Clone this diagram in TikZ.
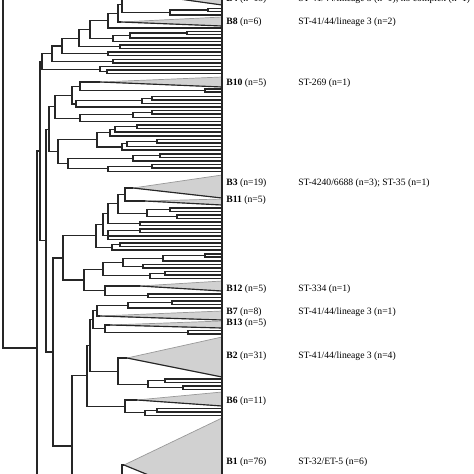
\documentclass[tikz,border=0pt]{standalone}
\usepackage{fontspec}
\setmainfont{Liberation Serif}
\begin{document}
\begin{tikzpicture}[x=0.02cm, y=-0.02cm,
    branch/.style={draw=black!85, line width=0.65pt},
    clade/.style={fill=black!18, draw=black!40, line width=0.4pt},
    every node/.style={font=\fontsize{5.5}{6.6}\selectfont, inner sep=0pt, anchor=west}]
  \useasboundingbox (0,0) rectangle (474,474);
  \clip (0,0) rectangle (474,474);
  \coordinate (rim) at (222,0);
  \coordinate (offR) at (3,-30);
  \coordinate (offA) at (100,545);
  \coordinate (offB) at (100,540);
  % inner nodes of the tree
  \foreach \n/\x/\y in {N208/208/10, N170/170/12.5, N122/122/4.75, N118/118/13.375,
      N108/108/20.69, N187/187/33, N130/130/35.5, N113/113/38.5, N90/90/29.6,
      N120/120/46.75, N79/79/38.17, N108b/108/53.75, N62/62/45.96, N113b/113/61.25,
      N52/52/53.6, N107/107/71.75, N100/100/69.125, N42/42/61.36,
      N205/205/90.5, N80/80/86.25, N152a/152/98.25, N142/142/100.875, N76/76/103.94,
      N72/72/95.1, N152b/152/112.25, N133/133/114.875, N80b/80/118.19, N55/55/106.64,
      N137/137/126.75, N115/115/129.375, N110/110/132.7, N157/157/141.25,
      N127/127/143.875, N122b/122/146.94, N97/97/139.8, N160/160/155.75,
      N133c/133/158.375, N152c/152/166.25, N108c/108/168.875, N68/68/163.6,
      N58/58/151.7, N49/49/129.2,
      N125/125/194.5, N170b/170/209.75, N177/177/216.75, N147/147/213.25,
      N118b/118/203.875, N140/140/223.75, N108d/108/213.8, N140b/140/230.75,
      N108e/108/235.1, N103/103/224.45, N120b/120/244.75, N112/112/247.4,
      N96/96/235.9, N205b/205/255.5, N163/163/258.25, N143/143/266.25,
      N123/123/262.25, N165/165/273.25, N150/150/275.9, N103b/103/269.1,
      N148/148/295.75, N105/105/290.9, N84/84/280, N63/63/258,
      N172/172/302.75, N128/128/305.4, N97b/97/310.7, N188/188/332.25,
      N105b/105/328.6, N93/93/319.65, N165b/165/380.75, N183/183/387.75,
      N148b/148/384.25, N118c/118/371.1, N90b/90/345.4, N157b/157/410.25,
      N145/145/412.9, N125b/125/406.4, N87/87/375.9, N122c/122/492,
      N82/82/516, N72b/72/446, N53/53/352, N46/46/240.6, N40/40/151, N37/37/348}
    \coordinate (\n) at (\x,\y);
  % collapsed clades
  \foreach \n/\x/\y/\a/\b in {tB4/165/-3/-13/5, tB8/121/22/17/26, tB10/100/82/77/87,
      tB3/133/188/175/198, tB11/145/201/199/205, tB12/140/286/281/291,
      tB7/100/316/311/320, tB13/110/325/321/328, tB2/127/358/337/377,
      tB6/137/400/392/406, tB1/124/465/418/505}{
    \coordinate (\n) at (\x,\y);
    \filldraw[clade] (\n) -- (rim |- 0,\a) -- (rim |- 0,\b) -- cycle;
    \draw[branch] (\n) -- (rim |- 0,\b);
  }
  % branches
  \foreach \p/\c in {N122/tB4, N122/N170, N170/N208, N118/N122, N118/tB8, N108/N118,
      N130/N187, N113/N130, N90/N108, N90/N113, N79/N90, N79/N120, N62/N79,
      N62/N108b, N52/N62, N52/N113b, N100/N107, N42/N52, N42/N100, N40/N42,
      N40/N46, N46/N49, N46/N53, N49/N55, N49/N58, N55/N72, N55/N80b, N72/N80,
      N72/N76, N80/tB10, N80/N205, N76/N142, N142/N152a, N80b/N133, N133/N152b,
      N58/N97, N58/N68, N97/N110, N97/N122b, N110/N115, N115/N137, N122b/N127,
      N127/N157, N68/N133c, N68/N108c, N133c/N160, N108c/N152c, N53/N63, N53/N72b,
      N63/N96, N63/N84, N96/N103, N96/N112, N103/N108d, N103/N108e, N108d/N118b,
      N108d/N140, N118b/N125, N118b/N147, N125/tB3, N125/tB11, N147/N170b,
      N147/N177, N108e/N140b, N112/N120b, N84/N103b, N84/N105, N103b/N123,
      N103b/N150, N123/N163, N123/N143, N163/N205b, N150/N165, N105/tB12,
      N105/N148, N72b/N87, N72b/N82, N87/N90b, N87/N125b, N90b/N93, N90b/N118c,
      N93/N97b, N93/N105b, N97b/N128, N97b/tB7, N128/N172, N105b/tB13,
      N105b/N188, N118c/tB2, N118c/N148b, N148b/N165b, N148b/N183, N125b/tB6,
      N125b/N145, N145/N157b, N82/N122c, N82/offB, N122c/tB1, N37/N40, N37/offA}
    \draw[branch] (\p) |- (\c);
  \draw[branch] (offR) |- (N37);
  % leaves
  \foreach \p/\y in {N208/8.5, N208/11.5, N170/15, N108/28, N187/31.5, N187/34.5,
      N130/38, N113/41.5, N120/45, N120/48.5, N108b/52, N108b/55.5, N113b/59.5,
      N113b/63, N100/66.5, N107/70, N107/73.5, N205/89, N205/92, N152a/96.5,
      N152a/100, N142/103.5, N76/107, N152b/110.5, N152b/114, N133/117.5,
      N80b/121.5, N137/125, N137/128.5, N115/132, N110/136, N157/139.5, N157/143,
      N127/146.5, N122b/150, N160/154, N160/157.5, N133c/161, N152c/164.5,
      N152c/168, N108c/171.5, N170b/208, N170b/211.5, N177/215, N177/218.5,
      N140/222, N140/225.5, N140b/229, N140b/232.5, N108e/236, N108e/239.5,
      N120b/243, N120b/246.5, N112/250, N205b/254, N205b/257, N163/261,
      N143/264.5, N143/268, N165/271.5, N165/275, N150/278.5, N148/294,
      N148/297.5, N172/301, N172/304.5, N128/308, N188/330.5, N188/334,
      N165b/379, N165b/382.5, N183/386, N183/389.5, N157b/408.5, N157b/412,
      N145/415.5, N122c/519}
    \draw[branch] (\p) |- (rim |- 0,\y);
  \draw[branch] (rim |- 0,-5) -- (rim |- 0,480);
  % clade labels
  \node (lB4) at (226,-1) {\textbf{B4} (n=15)};
  \node (lB8) at (226,22) {\textbf{B8} (n=6)};
  \node (lB10) at (226,83) {\textbf{B10} (n=5)};
  \node (lB3) at (226,183) {\textbf{B3} (n=19)};
  \node (lB11) at (226,200) {\textbf{B11} (n=5)};
  \node (lB12) at (226,289) {\textbf{B12} (n=5)};
  \node (lB7) at (226,312) {\textbf{B7} (n=8)};
  \node (lB13) at (226,323) {\textbf{B13} (n=5)};
  \node (lB2) at (226,356) {\textbf{B2} (n=31)};
  \node (lB6) at (226,401) {\textbf{B6} (n=11)};
  \node (lB1) at (226,462) {\textbf{B1} (n=76)};
  % sequence types
  \node (sB4) at (298,-1) {ST-41/44/lineage 3 (n=1); no complex (n=1)};
  \node (sB8) at (298,22) {ST-41/44/lineage 3 (n=2)};
  \node (sB10) at (298,83) {ST-269 (n=1)};
  \node (sB3) at (298,183) {ST-4240/6688 (n=3); ST-35 (n=1)};
  \node (sB12) at (298,289) {ST-334 (n=1)};
  \node (sB7) at (298,312) {ST-41/44/lineage 3 (n=1)};
  \node (sB2) at (298,356) {ST-41/44/lineage 3 (n=4)};
  \node (sB1) at (298,462) {ST-32/ET-5 (n=6)};
\end{tikzpicture}
\end{document}
